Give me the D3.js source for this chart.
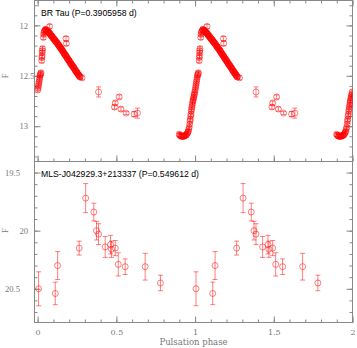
<!DOCTYPE html>
<html>
<head>
<meta charset="utf-8">
<script src="https://cdn.jsdelivr.net/npm/d3@7"></script>
<style>
  html, body { margin: 0; padding: 0; background: #fff; }
  svg { display: block; }
  .lbl { font-family: "DejaVu Serif", serif; font-size: 8px; fill: #777; }
  .ylbl { font-family: "Liberation Serif", "Times New Roman", serif; font-size: 8.6px; fill: #777; }
  .title { font-family: "Liberation Sans", Arial, sans-serif; font-size: 8.7px; fill: #000; }
</style>
</head>
<body>
<div id="chart"></div>
<script>
// ── DATA ─────────────────────────────────────────────────────────────────────
// phase in [0,1), magnitude, error ; each point drawn at phase and phase+1
const brTauTitle = 'BR Tau (P=0.3905958 d)';
const mlsTitle   = 'MLS-J042929.3+213337 (P=0.549612 d)';

// dense light curve of BR Tau (minimum, rise, maximum, decline)
const brTauDense = [
  [0.899, 13.08], [0.903, 13.09], [0.907, 13.09], [0.911, 13.10], [0.915, 13.10],
  [0.919, 13.10], [0.923, 13.10], [0.927, 13.10], [0.931, 13.10], [0.935, 13.09],
  [0.939, 13.09], [0.943, 13.09], [0.947, 13.08], [0.951, 13.07], [0.954, 13.06],
  [0.957, 13.05], [0.960, 13.03], [0.963, 13.01], [0.966, 12.98], [0.968, 12.95],
  [0.970, 12.93], [0.972, 12.90], [0.974, 12.88], [0.976, 12.85], [0.978, 12.83],
  [0.980, 12.81], [0.982, 12.79], [0.984, 12.77], [0.986, 12.75], [0.988, 12.74],
  [0.990, 12.72], [0.992, 12.71], [0.994, 12.69], [0.996, 12.68], [0.998, 12.66],
  [0.001, 12.64], [0.003, 12.62], [0.005, 12.60], [0.007, 12.58], [0.009, 12.56],
  [0.011, 12.54], [0.013, 12.52], [0.015, 12.50], [0.017, 12.49], [0.019, 12.48],
  [0.021, 12.47],
  [0.026, 12.35], [0.027, 12.32], [0.028, 12.30], [0.029, 12.27], [0.030, 12.25],
  [0.031, 12.23],
  [0.036, 12.12], [0.038, 12.09], [0.040, 12.07], [0.043, 12.06], [0.046, 12.05],
  [0.049, 12.04], [0.052, 12.04], [0.055, 12.05], [0.058, 12.05], [0.062, 12.06],
  [0.076, 12.01],
  [0.066, 12.06], [0.069, 12.07], [0.072, 12.07], [0.075, 12.08], [0.078, 12.08],
  [0.081, 12.09], [0.084, 12.10], [0.087, 12.10], [0.090, 12.11], [0.093, 12.11],
  [0.096, 12.12], [0.099, 12.13], [0.102, 12.13], [0.105, 12.14], [0.108, 12.14],
  [0.111, 12.15], [0.114, 12.16], [0.117, 12.16], [0.120, 12.17], [0.123, 12.17],
  [0.126, 12.18], [0.129, 12.19], [0.132, 12.19], [0.135, 12.20], [0.138, 12.21],
  [0.141, 12.21], [0.144, 12.22], [0.147, 12.23], [0.150, 12.23], [0.153, 12.24],
  [0.156, 12.25], [0.159, 12.25], [0.162, 12.26], [0.165, 12.27], [0.168, 12.28],
  [0.171, 12.28], [0.174, 12.29], [0.177, 12.30], [0.180, 12.30], [0.183, 12.31],
  [0.186, 12.32], [0.189, 12.33], [0.192, 12.33], [0.195, 12.34], [0.198, 12.35],
  [0.201, 12.35], [0.204, 12.36], [0.207, 12.37], [0.210, 12.38], [0.213, 12.38],
  [0.216, 12.39], [0.219, 12.40], [0.222, 12.40], [0.225, 12.41], [0.228, 12.42],
  [0.231, 12.42], [0.234, 12.43], [0.237, 12.44], [0.240, 12.45], [0.243, 12.45],
  [0.246, 12.46], [0.249, 12.47], [0.252, 12.47], [0.255, 12.48], [0.258, 12.49],
  [0.261, 12.49], [0.264, 12.50], [0.267, 12.51], [0.270, 12.51], [0.282, 12.52],
  [0.180, 12.13], [0.182, 12.18]
];
const brTauDenseErr = 0.02;

// sparse BR Tau points with their own error bars
const brTauSparse = [
  [0.387, 12.66, 0.05], [0.488, 12.81, 0.02], [0.493, 12.77, 0.02],
  [0.518, 12.71, 0.02], [0.529, 12.83, 0.02], [0.562, 12.87, 0.015],
  [0.613, 12.88, 0.025], [0.634, 12.87, 0.05]
];

const mlsPoints = [
  [0.006, 20.50, 0.146], [0.112, 20.54, 0.097], [0.127, 20.30, 0.12],
  [0.264, 20.15, 0.06],  [0.305, 19.72, 0.125], [0.357, 19.84, 0.076],
  [0.374, 20.00, 0.08],  [0.387, 20.03, 0.09],  [0.429, 20.14, 0.09],
  [0.463, 20.12, 0.08],  [0.469, 20.16, 0.07],  [0.493, 20.15, 0.065],
  [0.512, 20.29, 0.10],  [0.556, 20.31, 0.067], [0.683, 20.31, 0.115],
  [0.780, 20.45, 0.067]
];

const xTicks     = [0, 0.5, 1, 1.5, 2];
const brTauTicks = [12, 12.5, 13];
const mlsTicks   = [19.5, 20, 20.5];
const xLabel = 'Pulsation phase';
const yLabel = 'F';

// ── DIMENSIONS ───────────────────────────────────────────────────────────────
const W = 357, H = 348;
const left = 34.5, right = 352.5, top1 = 0.5, mid = 161.5, bottom = 322.5;
const FRAME = '#888';
const MARK  = '#ff0000';

const x = d3.scaleLinear().domain([-0.02, 2.0]).range([left, right]);
const yTop = d3.scaleLinear().domain([11.753, 13.35]).range([top1, mid]);
const yBot = d3.scaleLinear().domain([19.405, 20.79]).range([mid, bottom]);

const round1 = v => Math.round(v * 10) / 10;
const xMinor = d3.range(0, 21).map(i => i / 10);

const svg = d3.select('#chart').append('svg')
  .attr('width', W).attr('height', H);

function styleAxis(sel) {
  sel.select('.domain').remove();
  sel.selectAll('.tick line').attr('stroke', FRAME);
}

function drawPanel(cfg) {
  const { y, y0, y1, majors, minors, id } = cfg;
  const g = svg.append('g');

  g.append('defs').append('clipPath').attr('id', id)
    .append('rect')
      .attr('x', left).attr('y', y0)
      .attr('width', right - left).attr('height', y1 - y0);

  // x ticks (bottom edge, inward)
  g.append('g').attr('transform', `translate(0,${y1})`)
    .call(d3.axisBottom(x).tickValues(xMinor).tickSize(-3).tickSizeOuter(0).tickFormat(''))
    .call(styleAxis);
  const xMaj = g.append('g').attr('transform', `translate(0,${y1})`)
    .call(d3.axisBottom(x).tickValues(xTicks).tickSize(-6).tickSizeOuter(0).tickPadding(7)
      .tickFormat(cfg.xLabels ? (d => String(d)) : ''))
    .call(styleAxis);
  xMaj.selectAll('text').attr('class', 'lbl').attr('fill', null);

  if (cfg.topTicks) {
    g.append('g').attr('transform', `translate(0,${y0})`)
      .call(d3.axisTop(x).tickValues(xMinor).tickSize(-3).tickSizeOuter(0).tickFormat(''))
      .call(styleAxis);
    g.append('g').attr('transform', `translate(0,${y0})`)
      .call(d3.axisTop(x).tickValues(xTicks).tickSize(-6).tickSizeOuter(0).tickFormat(''))
      .call(styleAxis);
  }

  // y ticks, left and right
  g.append('g').attr('transform', `translate(${left},0)`)
    .call(d3.axisLeft(y).tickValues(minors).tickSize(-3).tickSizeOuter(0).tickFormat(''))
    .call(styleAxis);
  const yMaj = g.append('g').attr('transform', `translate(${left},0)`)
    .call(d3.axisLeft(y).tickValues(majors).tickSize(-6).tickSizeOuter(0).tickFormat(d => String(d)))
    .call(styleAxis);
  yMaj.selectAll('text').attr('class', 'ylbl').attr('fill', null)
    .attr('text-anchor', cfg.labelAnchor)
    .attr('x', cfg.labelX);

  g.append('g').attr('transform', `translate(${right},0)`)
    .call(d3.axisRight(y).tickValues(minors).tickSize(-3).tickSizeOuter(0).tickFormat(''))
    .call(styleAxis);
  g.append('g').attr('transform', `translate(${right},0)`)
    .call(d3.axisRight(y).tickValues(majors).tickSize(-6).tickSizeOuter(0).tickFormat(''))
    .call(styleAxis);

  // frame
  g.append('rect')
    .attr('x', left).attr('y', y0)
    .attr('width', right - left).attr('height', y1 - y0)
    .attr('fill', 'none').attr('stroke', FRAME).attr('stroke-width', 1);

  // y label
  g.append('text').attr('class', 'ylbl')
    .attr('transform', `translate(7.5,${cfg.yLabelAt}) rotate(-90)`)
    .attr('text-anchor', 'middle')
    .text(yLabel);

  // title
  g.append('text').attr('class', 'title')
    .attr('x', 41).attr('y', cfg.titleY)
    .text(cfg.title);

  // points, each at phase and phase + 1
  const pts = [];
  cfg.points.forEach(p => {
    pts.push({ ph: p[0], m: p[1], e: p[2] });
    pts.push({ ph: p[0] + 1, m: p[1], e: p[2] });
  });

  const marks = g.append('g').attr('clip-path', `url(#${id})`)
    .attr('fill', 'none').attr('stroke', MARK)
    .attr('stroke-opacity', 0.5).attr('stroke-width', 1);

  const eb = marks.selectAll('.eb').data(pts).join('g').attr('class', 'eb');
  eb.append('line')
    .attr('x1', d => x(d.ph)).attr('x2', d => x(d.ph))
    .attr('y1', d => y(d.m - d.e)).attr('y2', d => y(d.m + d.e));
  eb.append('line')
    .attr('x1', d => x(d.ph) - 2.5).attr('x2', d => x(d.ph) + 2.5)
    .attr('y1', d => y(d.m - d.e)).attr('y2', d => y(d.m - d.e));
  eb.append('line')
    .attr('x1', d => x(d.ph) - 2.5).attr('x2', d => x(d.ph) + 2.5)
    .attr('y1', d => y(d.m + d.e)).attr('y2', d => y(d.m + d.e));

  marks.selectAll('circle').data(pts).join('circle')
    .attr('cx', d => x(d.ph)).attr('cy', d => y(d.m)).attr('r', 3);
}

drawPanel({
  id: 'clip-top', y: yTop, y0: top1, y1: mid,
  majors: brTauTicks,
  minors: d3.range(118, 134).map(v => round1(v / 10)),
  labelAnchor: 'start', labelX: -15,
  yLabelAt: yTop(12.5), title: brTauTitle, titleY: 16,
  topTicks: true, xLabels: false,
  points: brTauDense.map(d => [d[0], d[1], brTauDenseErr]).concat(brTauSparse)
});

drawPanel({
  id: 'clip-bot', y: yBot, y0: mid, y1: bottom,
  majors: mlsTicks,
  minors: d3.range(195, 208).map(v => round1(v / 10)),
  labelAnchor: 'end', labelX: d => Number.isInteger(d) ? -6.5 : -14.5,
  yLabelAt: yBot(20), title: mlsTitle, titleY: 176.5,
  topTicks: false, xLabels: true,
  points: mlsPoints
});

svg.append('text').attr('class', 'lbl')
  .attr('x', (left + right) / 2).attr('y', 345)
  .attr('text-anchor', 'middle')
  .style('font-size', '8.5px')
  .text(xLabel);
</script>
</body>
</html>
